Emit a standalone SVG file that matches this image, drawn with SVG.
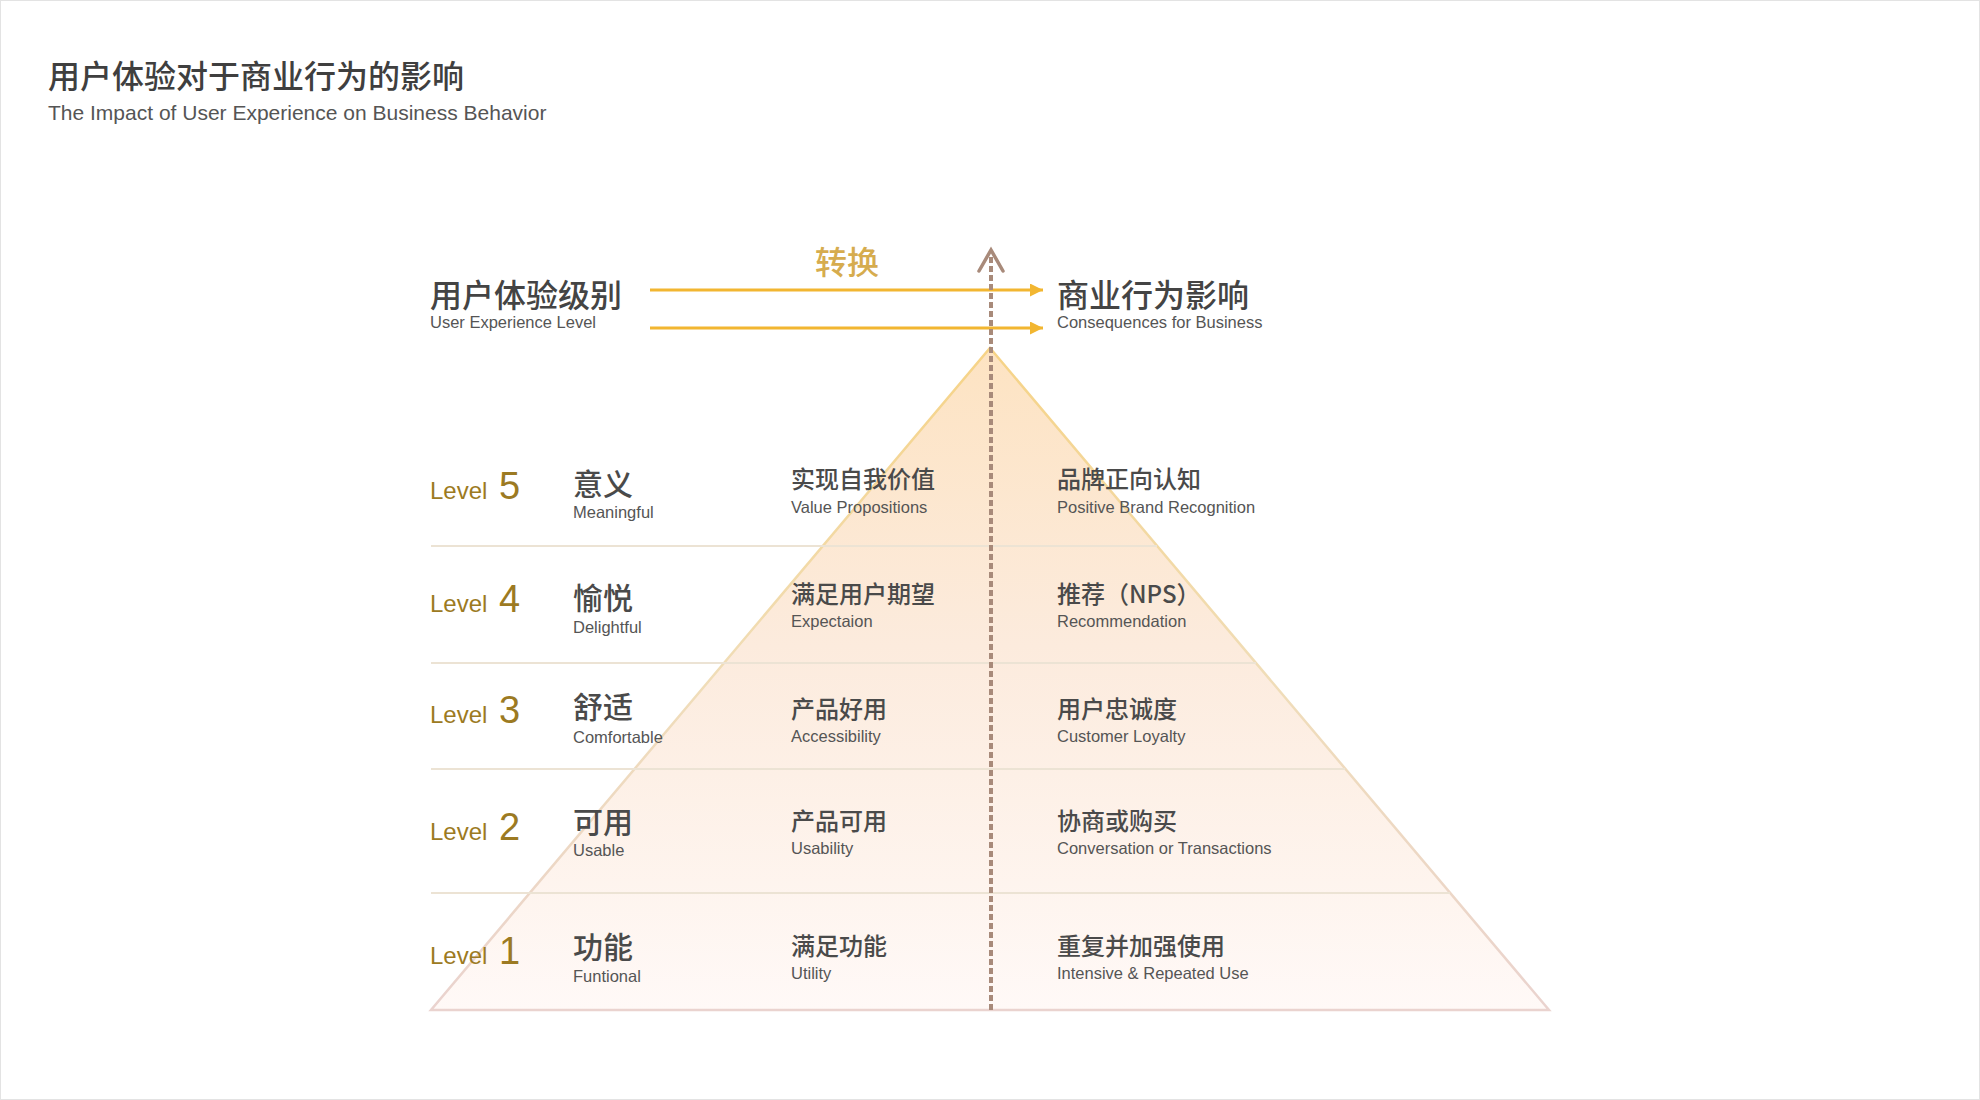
<svg xmlns="http://www.w3.org/2000/svg" width="1980" height="1100" viewBox="0 0 1980 1100">
  <style>
    .cjk { font-family: "Noto Sans CJK SC", "Noto Sans", sans-serif; }
    .lat { font-family: "Liberation Sans", "Noto Sans", "Noto Sans CJK SC", sans-serif; }
    .title { font-size: 32px; fill: #3f3f3f; font-weight: 500; }
    .subtitle { font-size: 21px; fill: #555555; }
    .head { font-size: 32px; fill: #444444; font-weight: 500; }
    .headsub { font-size: 16.5px; fill: #555555; }
    .conv { font-size: 32px; fill: #D6AC4E; font-weight: 500; }
    .lvl { font-size: 24px; fill: #9C7A22; }
    .num { font-size: 38px; fill: #9C7A22; }
    .name { font-size: 30px; fill: #4a4a4a; font-weight: 500; }
    .cell { font-size: 24px; fill: #4a4a4a; font-weight: 500; }
    .sub { font-size: 16.5px; fill: #555555; }
    .sep { stroke: #ECE3D4; stroke-width: 2; fill: none; }
    .arr { stroke: #F2B631; stroke-width: 3; fill: none; }
  </style>
  <defs>
    <linearGradient id="pyrFill" x1="0" y1="348" x2="0" y2="1010" gradientUnits="userSpaceOnUse">
      <stop offset="0" stop-color="#FDE3C2"/>
      <stop offset="0.45" stop-color="#FCEBDD"/>
      <stop offset="1" stop-color="#FFF9F7"/>
    </linearGradient>
    <linearGradient id="pyrStroke" x1="0" y1="348" x2="0" y2="1010" gradientUnits="userSpaceOnUse">
      <stop offset="0" stop-color="#F6D386"/>
      <stop offset="0.5" stop-color="#F0DDB8"/>
      <stop offset="1" stop-color="#EAD3CF"/>
    </linearGradient>
    <marker id="tri" viewBox="0 0 13 13" refX="13" refY="6.5" markerWidth="13" markerHeight="13" markerUnits="userSpaceOnUse" orient="auto">
      <path d="M0,0 L13,6.5 L0,13 Z" fill="#F2B631"/>
    </marker>
  </defs>

  <rect x="0.5" y="0.5" width="1979" height="1099" fill="#ffffff" stroke="#e3e3e3" stroke-width="1"/>

  <g id="title">
    <text class="cjk title" x="48" y="88">用户体验对于商业行为的影响</text>
    <text class="lat subtitle" x="48" y="120">The Impact of User Experience on Business Behavior</text>
  </g>

  <g id="pyramid">
    <polygon points="990,348 1549,1010 431,1010" fill="url(#pyrFill)" stroke="url(#pyrStroke)" stroke-width="2.5" stroke-linejoin="miter"/>
  </g>

  <g id="separators">
    <line class="sep" x1="431" y1="546" x2="1157" y2="546"/>
    <line class="sep" x1="431" y1="663" x2="1256" y2="663"/>
    <line class="sep" x1="431" y1="769" x2="1345" y2="769"/>
    <line class="sep" x1="431" y1="893" x2="1450" y2="893"/>
  </g>

  <g id="header-left">
    <text class="cjk head" x="430" y="307">用户体验级别</text>
    <text class="lat headsub" x="430" y="328">User Experience Level</text>
  </g>
  <g id="header-right">
    <text class="cjk head" x="1057" y="307">商业行为影响</text>
    <text class="lat headsub" x="1057" y="328">Consequences for Business</text>
  </g>
  <g id="label-convert">
    <text class="cjk conv" x="847" y="274" text-anchor="middle">转换</text>
  </g>

  <g id="connectors">
    <line class="arr" x1="650" y1="290" x2="1043" y2="290" marker-end="url(#tri)"/>
    <line class="arr" x1="650" y1="328" x2="1043" y2="328" marker-end="url(#tri)"/>
    <line x1="991" y1="1010" x2="991" y2="254" stroke="#A88A7A" stroke-width="4" stroke-dasharray="6 3" fill="none"/>
    <polyline points="979,271 991,250 1003,271" stroke="#A88A7A" stroke-width="3.5" fill="none" stroke-linecap="round" stroke-linejoin="miter"/>
  </g>

  <g id="level5">
    <text class="lat lvl" x="430" y="499">Level</text>
    <text class="lat num" x="499" y="499">5</text>
    <text class="cjk name" x="573" y="495">意义</text>
    <text class="lat sub" x="573" y="518">Meaningful</text>
    <text class="cjk cell" x="791" y="488">实现自我价值</text>
    <text class="lat sub" x="791" y="513">Value Propositions</text>
    <text class="cjk cell" x="1057" y="488">品牌正向认知</text>
    <text class="lat sub" x="1057" y="513">Positive Brand Recognition</text>
  </g>

  <g id="level4">
    <text class="lat lvl" x="430" y="612">Level</text>
    <text class="lat num" x="499" y="612">4</text>
    <text class="cjk name" x="573" y="609">愉悦</text>
    <text class="lat sub" x="573" y="633">Delightful</text>
    <text class="cjk cell" x="791" y="603">满足用户期望</text>
    <text class="lat sub" x="791" y="627">Expectaion</text>
    <text class="cjk cell" x="1057" y="603">推荐（NPS）</text>
    <text class="lat sub" x="1057" y="627">Recommendation</text>
  </g>

  <g id="level3">
    <text class="lat lvl" x="430" y="723">Level</text>
    <text class="lat num" x="499" y="723">3</text>
    <text class="cjk name" x="573" y="718">舒适</text>
    <text class="lat sub" x="573" y="743">Comfortable</text>
    <text class="cjk cell" x="791" y="718">产品好用</text>
    <text class="lat sub" x="791" y="742">Accessibility</text>
    <text class="cjk cell" x="1057" y="718">用户忠诚度</text>
    <text class="lat sub" x="1057" y="742">Customer Loyalty</text>
  </g>

  <g id="level2">
    <text class="lat lvl" x="430" y="840">Level</text>
    <text class="lat num" x="499" y="840">2</text>
    <text class="cjk name" x="573" y="833">可用</text>
    <text class="lat sub" x="573" y="856">Usable</text>
    <text class="cjk cell" x="791" y="830">产品可用</text>
    <text class="lat sub" x="791" y="854">Usability</text>
    <text class="cjk cell" x="1057" y="830">协商或购买</text>
    <text class="lat sub" x="1057" y="854">Conversation or Transactions</text>
  </g>

  <g id="level1">
    <text class="lat lvl" x="430" y="964">Level</text>
    <text class="lat num" x="499" y="964">1</text>
    <text class="cjk name" x="573" y="958">功能</text>
    <text class="lat sub" x="573" y="982">Funtional</text>
    <text class="cjk cell" x="791" y="955">满足功能</text>
    <text class="lat sub" x="791" y="979">Utility</text>
    <text class="cjk cell" x="1057" y="955">重复并加强使用</text>
    <text class="lat sub" x="1057" y="979">Intensive &amp; Repeated Use</text>
  </g>
</svg>
